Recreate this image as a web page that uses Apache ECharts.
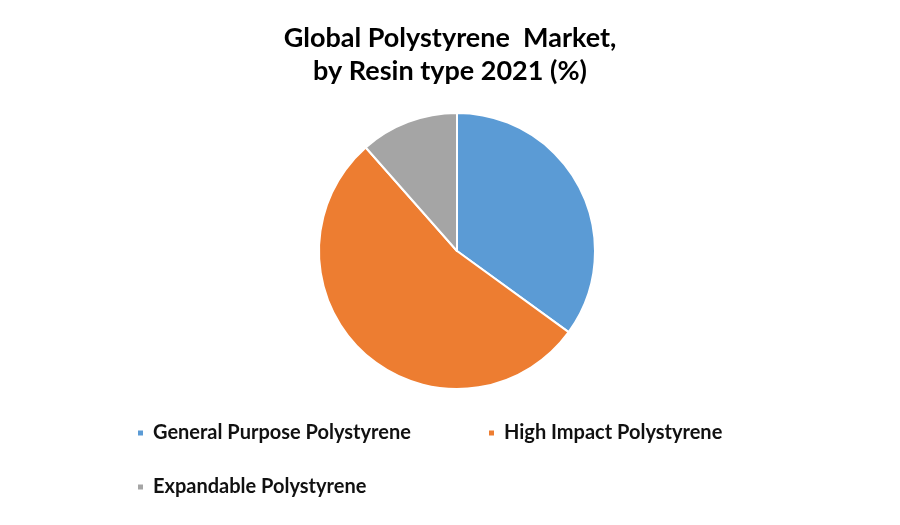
<!DOCTYPE html>
<html><head><meta charset="utf-8">
<script src="https://cdn.jsdelivr.net/npm/echarts@6/dist/echarts.min.js"></script>
<style>html,body{margin:0;padding:0;background:#fff}#c{width:900px;height:525px}</style>
</head><body><div id="c"></div>
<script>
const categories = ["General Purpose Polystyrene", "High Impact Polystyrene", "Expandable Polystyrene"];
const values = [35.0, 53.5, 11.5];
const colors = ["#5b9bd5", "#ed7d31", "#a5a5a5"];
const FONT = "Lato";
const chart = echarts.init(document.getElementById('c'), null, {renderer: 'canvas'});
const legendPos = [{left: 136, top: 423}, {left: 487, top: 423}, {left: 136, top: 477}];
const legendCommon = {
  orient: 'horizontal', itemWidth: 7, itemHeight: 7, itemGap: 8, padding: 0,
  icon: 'rect',
  textStyle: {fontFamily: FONT, fontWeight: 'bold', fontSize: 20, lineHeight: 20, color: '#111', padding: [0, 0, 0, 4]}
};
chart.setOption({
  animation: false,
  color: colors,
  title: {
    text: 'Global Polystyrene  Market,\nby Resin type 2021 (%)',
    left: 'center', top: 17,
    textStyle: {fontFamily: FONT, fontWeight: 'bold', fontSize: 27, color: '#000', lineHeight: 33}
  },
  legend: categories.map((c, i) => Object.assign({}, legendCommon, legendPos[i], {data: [c]})),
  series: [{
    type: 'pie',
    center: [457, 251],
    radius: 138,
    startAngle: 90,
    clockwise: true,
    label: {show: false},
    labelLine: {show: false},
    itemStyle: {borderColor: '#fff', borderWidth: 2},
    data: categories.map((c, i) => ({name: c, value: values[i]}))
  }]
});
</script></body></html>
